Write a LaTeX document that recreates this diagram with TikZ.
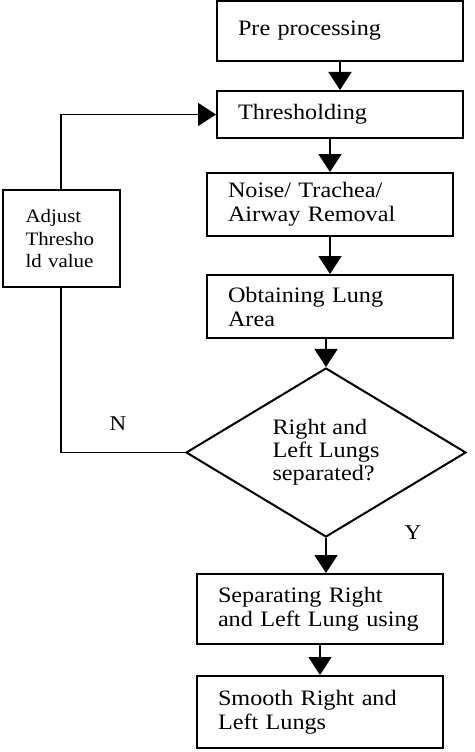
\documentclass[tikz,border=0pt]{standalone}
\usepackage{fontspec}
\setmainfont[FakeStretch=1.1]{Liberation Serif}
\usetikzlibrary{positioning,arrows.meta,shapes.geometric}
\tikzset{
  flowarrow/.style={-{Triangle[length=18pt,width=23pt]}, line width=1.8pt},
  plainline/.style={line width=1.8pt},
  stepbox/.style={draw, line width=2pt, minimum width=246pt, inner xsep=21pt, text width=204pt, align=left, font=\fontsize{22}{24}\selectfont},
  decision/.style={draw, diamond, line width=2pt, minimum width=280pt, minimum height=169pt, aspect=1.66, inner sep=0pt, align=left, font=\fontsize{22}{23}\selectfont},
  adjbox/.style={draw, line width=2pt, minimum width=117pt, minimum height=97pt, inner xsep=23pt, text width=71pt, align=left, font=\fontsize{19}{22.5}\selectfont},
  branchlabel/.style={font=\fontsize{21}{22}\selectfont}
}

\begin{document}
\begin{tikzpicture}[x=1pt, y=-1pt]
  \useasboundingbox (0,0) rectangle (474,752);
  % main chain
  \node[stepbox, minimum height=60pt] (pre) at (340,31) {Pre processing};
  \node[stepbox, minimum height=47pt] (thr) at (340,114.5) {Thresholding};
  \node[stepbox, minimum height=63pt] (noise) at (330,204.5) {Noise/ Trachea/\\Airway Removal};
  \node[stepbox, minimum height=63pt] (area) at (330,306.5) {Obtaining Lung\\Area};
  \node[decision] (decide) at (326,452.5) {Right and\\Left Lungs\\separated?};
  \node[stepbox, minimum height=70pt] (sep) at (320,609) {Separating Right\\and Left Lung using};
  \node[stepbox, minimum height=72pt] (smooth) at (320,712) {Smooth Right and\\Left Lungs};
  % feedback
  \node[adjbox] (adj) at (61,238.5) {Adjust\\Thresho\\ld value};
  \node[branchlabel] (nlab) at (118,424) {N};
  \node[branchlabel] (ylab) at (413,533) {Y};

  \draw[flowarrow] (pre) -- (thr);
  \draw[flowarrow] (thr.south -| noise) -- (noise);
  \draw[flowarrow] (noise) -- (area);
  \draw[flowarrow] (area.south -| decide) -- (decide);
  \draw[flowarrow] (decide.south) -- (decide.south |- sep.north);
  \draw[flowarrow] (sep) -- (smooth);
  \draw[flowarrow] (adj.north) |- (thr);
  \draw[plainline] (adj.south) |- (decide.west);
\end{tikzpicture}
\end{document}
